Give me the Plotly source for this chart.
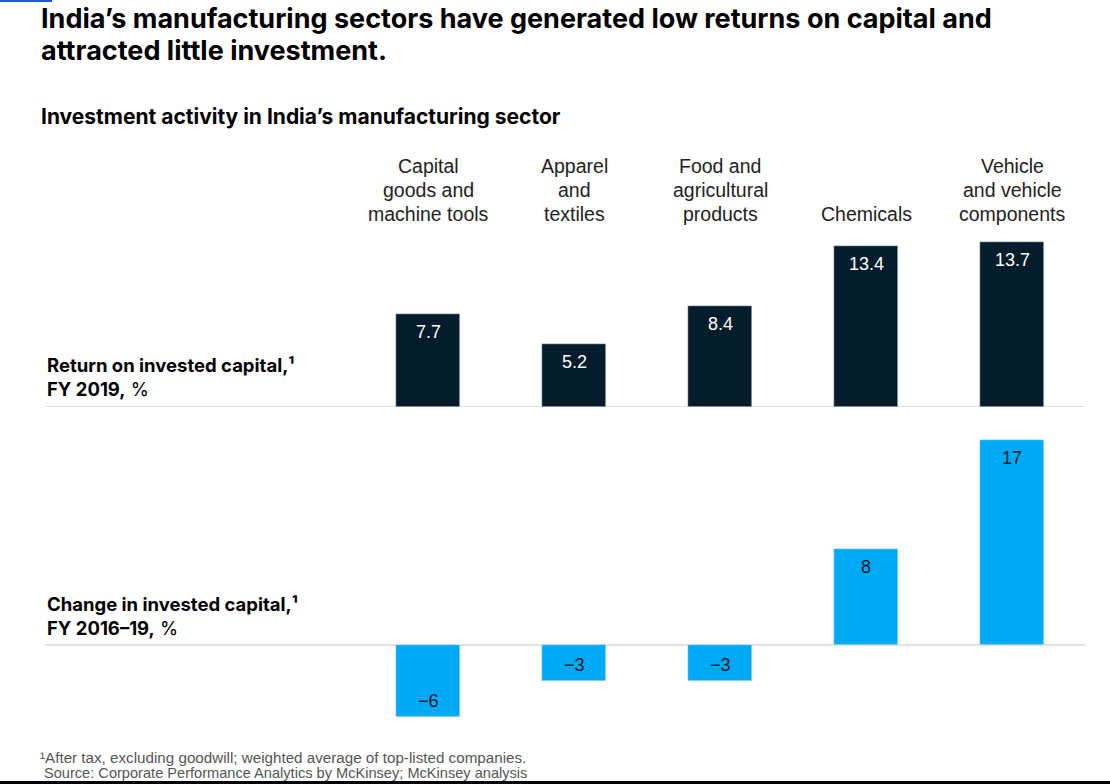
import plotly.graph_objects as go

categories = ["Capital<br>goods and<br>machine tools", "Apparel<br>and<br>textiles",
              "Food and<br>agricultural<br>products", "Chemicals",
              "Vehicle<br>and vehicle<br>components"]
roic_2019 = [7.7, 5.2, 8.4, 13.4, 13.7]
invested_change = [-6, -3, -3, 8, 17]
roic_labels = ["7.7", "5.2", "8.4", "13.4", "13.7"]
change_labels = ["\u22126", "\u22123", "\u22123", "8", "17"]
title_lines = ["India\u2019s manufacturing sectors have generated low returns on capital and",
               "attracted little investment."]

W, H = 1110, 784
DARK = "#051C2C"
CYAN = "#00A9F4"
FONT = "Liberation Sans"
BOLD = "Inter"

def py(p):
    return 1 - p / H

cats = list(range(len(categories)))
xr = [-428 / 146, (W - 428) / 146]

fig = go.Figure()
fig.add_trace(go.Bar(x=cats, y=roic_2019, marker_color=DARK, width=64 / 146,
                     xaxis="x", yaxis="y", hoverinfo="skip", showlegend=False))
fig.add_trace(go.Bar(x=cats, y=invested_change, marker_color=CYAN, width=64 / 146,
                     xaxis="x2", yaxis="y2", hoverinfo="skip", showlegend=False))

ann = []
for i, (v, t) in enumerate(zip(roic_2019, roic_labels)):
    ann.append(dict(x=i, y=v, xref="x", yref="y", text=t, showarrow=False,
                    yanchor="middle", yshift=-18,
                    font=dict(family=FONT, size=18, color="white")))
for i, (v, t) in enumerate(zip(invested_change, change_labels)):
    ann.append(dict(x=i, y=v, xref="x2", yref="y2", text=t, showarrow=False,
                    yanchor="middle", yshift=-18 if v > 0 else 16,
                    font=dict(family=FONT, size=18, color="#051C2C")))
for i, c in enumerate(categories):
    lines = c.split("<br>")
    n = len(lines)
    for k, ln in enumerate(lines):
        ycen = 214 - 24 * (n - 1 - k)
        ann.append(dict(x=i, y=py(ycen), xref="x", yref="paper", text=ln, showarrow=False,
                        yanchor="middle", xanchor="center", align="center",
                        font=dict(family=FONT, size=19.5, color="#222222")))

# titles
for k, ln in enumerate(title_lines):
    ann.append(dict(x=39 / W, y=py(18 + 33 * k), xref="paper", yref="paper", xanchor="left",
                    yanchor="middle", align="left", showarrow=False, text="<b>" + ln + "</b>",
                    font=dict(family=BOLD, size=27, color="#000000")))
ann.append(dict(x=39 / W, y=py(116), xref="paper", yref="paper", xanchor="left", yanchor="middle",
                align="left", showarrow=False,
                text="<b>Investment activity in India\u2019s manufacturing sector</b>",
                font=dict(family=BOLD, size=21, color="#000000")))
ann.append(dict(x=45 / W, y=py(402), xref="paper", yref="paper", xanchor="left", yanchor="bottom",
                align="left", showarrow=False,
                text="<b>Return on invested capital,\u00b9</b><br><b>FY 2019,</b> %",
                font=dict(family=BOLD, size=18.5, color="#000000")))
ann.append(dict(x=45 / W, y=py(641), xref="paper", yref="paper", xanchor="left", yanchor="bottom",
                align="left", showarrow=False,
                text="<b>Change in invested capital,\u00b9</b><br><b>FY 2016\u201319,</b> %",
                font=dict(family=BOLD, size=18.5, color="#000000")))
ann.append(dict(x=38 / W, y=py(757), xref="paper", yref="paper", xanchor="left", yanchor="middle",
                align="left", showarrow=False,
                text="\u00b9After tax, excluding goodwill; weighted average of top-listed companies.",
                font=dict(family=FONT, size=15.2, color="#555555")))
ann.append(dict(x=42 / W, y=py(773), xref="paper", yref="paper", xanchor="left", yanchor="middle",
                align="left", showarrow=False,
                text="Source: Corporate Performance Analytics by McKinsey; McKinsey analysis",
                font=dict(family=FONT, size=14.6, color="#555555")))

shapes = [
    dict(type="line", xref="paper", yref="y", x0=45 / W, x1=1085 / W, y0=0, y1=0,
         line=dict(color="#D9D9D9", width=1.5), layer="below"),
    dict(type="line", xref="paper", yref="y2", x0=45 / W, x1=1085 / W, y0=0, y1=0,
         line=dict(color="#D9D9D9", width=1.5), layer="below"),
    dict(type="rect", xref="paper", yref="paper", x0=0, x1=52 / W, y0=py(2), y1=1,
         fillcolor="#2251FF", line_width=0),
    dict(type="rect", xref="paper", yref="paper", x0=0, x1=1, y0=0, y1=py(781),
         fillcolor="#000000", line_width=0),
]

s = 12.05
fig.update_layout(
    width=W, height=H, margin=dict(l=0, r=0, t=0, b=0),
    paper_bgcolor="white", plot_bgcolor="white",
    annotations=ann, shapes=shapes, bargap=0,
    xaxis=dict(domain=[0, 1], range=xr, visible=False, fixedrange=True),
    xaxis2=dict(domain=[0, 1], range=xr, visible=False, anchor="y2", fixedrange=True),
    yaxis=dict(domain=[py(407), py(230)], range=[0, (407 - 230) / s], visible=False, fixedrange=True),
    yaxis2=dict(domain=[py(725), py(425)], range=[-(725 - 645) / s, (645 - 425) / s],
                visible=False, anchor="x2", fixedrange=True),
)
fig.write_html("out.html")
